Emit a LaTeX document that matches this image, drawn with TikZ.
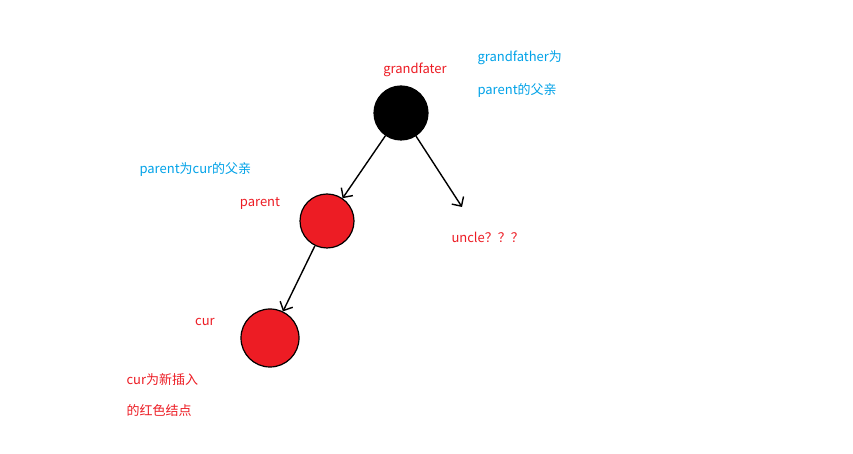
\documentclass[tikz,border=0pt]{standalone}
\usepackage{fontspec}
\setmainfont{Noto Sans CJK SC}
\usetikzlibrary{arrows.meta}
\definecolor{pred}{HTML}{ED1C24}
\definecolor{pblue}{HTML}{00A2E8}
\begin{document}
\begin{tikzpicture}[x=1pt,y=1pt,
  bnode/.style={circle,draw=black,line width=1.2pt,minimum size=54pt,inner sep=0pt},
  rlab/.style={text=pred,font=\fontsize{13}{16}\selectfont},
  blab/.style={text=pblue,font=\fontsize{13}{16}\selectfont},
  conn/.style={line width=1.4pt,-{Straight Barb[length=7pt,width=14pt,line width=1.4pt]}}]
\useasboundingbox (0,0) rectangle (853,454);
\fill[white] (0,0) rectangle (853,454);
\node[bnode,fill=black] (g) at (401,341) {};
\node[bnode,fill=pred] (p) at (327,233) {};
\node[bnode,fill=pred,minimum size=58pt] (c) at (270,116) {};
\coordinate (u) at (462,247);
\draw[conn] (g) -- (p);
\draw[conn] (g) -- (u);
\draw[conn] (p) -- (c);
\node[rlab] (tg) at (415,384) {grandfater};
\node[blab,anchor=west] (tg1) at (474,396) {grandfather为};
\node[blab,anchor=west] (tg2) at (474,363) {parent的父亲};
\node[blab,anchor=west] (tp1) at (136,284) {parent为cur的父亲};
\node[rlab] (tp) at (260,251) {parent};
\node[rlab,anchor=west] (tu) at (448,217) {uncle？？？};
\node[rlab] (tc) at (205,132) {cur};
\node[rlab,anchor=west] (tc1) at (123,74) {cur为新插入};
\node[rlab,anchor=west] (tc2) at (123,43) {的红色结点};
\end{tikzpicture}
\end{document}
